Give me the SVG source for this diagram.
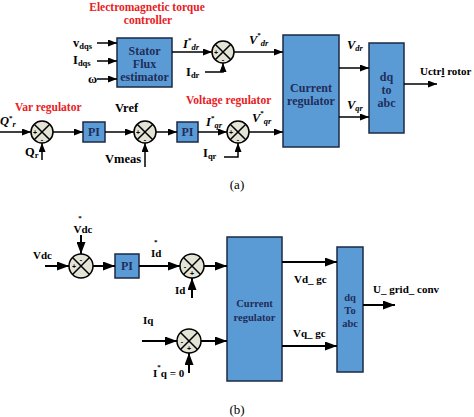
<svg xmlns="http://www.w3.org/2000/svg" width="474" height="417" viewBox="0 0 474 417">
<defs>
<style>
text{font-family:"Liberation Serif","Times New Roman",serif;font-weight:bold;fill:#000}
.box{fill:#5B9BD5;stroke:#1B2A44;stroke-width:1.5}
.bt{fill:#1F2D5A;text-anchor:middle;font-size:12px}
.bt2{fill:#1F2D5A;text-anchor:middle;font-size:10.5px}
.red{fill:#E8201E;font-size:11.5px}
.lbl{font-size:12.5px}
.lb{font-size:11px}
.sub{font-size:8.5px}
.st{font-size:7px;font-style:normal}
.it{font-style:italic}
.sum{fill:#E4E4D6;stroke:#000;stroke-width:1.5}
.x{stroke:#000;stroke-width:1.5}
.sg{font-size:7px;text-anchor:middle;font-family:"Liberation Sans",Arial,sans-serif}
.ln{fill:none;stroke:#000;stroke-width:1.5}
.lnb{fill:none;stroke:#000;stroke-width:2}
.cap{font-weight:normal;font-size:13px;text-anchor:middle}
</style>
<marker id="ah" markerWidth="9" markerHeight="7" refX="9" refY="3.5" orient="auto" markerUnits="userSpaceOnUse"><path d="M0,0 L9,3.5 L0,7 z" fill="#000"/></marker>
<marker id="ahb" markerWidth="12" markerHeight="9" refX="12" refY="4.5" orient="auto" markerUnits="userSpaceOnUse"><path d="M0,0 L12,4.5 L0,9 z" fill="#000"/></marker>
</defs>

<!-- ===== (a) ===== -->
<text class="red" x="147" y="11" text-anchor="middle">Electromagnetic torque</text>
<text class="red" x="148" y="24" text-anchor="middle">controller</text>
<text class="red" x="15" y="111">Var regulator</text>
<text class="red" x="186" y="104">Voltage regulator</text>

<g id="stator">
<rect class="box" x="117" y="38" width="55" height="49"/>
<text class="bt" x="144.5" y="55">Stator</text>
<text class="bt" x="144.5" y="68">Flux</text>
<text class="bt" x="144.5" y="81">estimator</text>
</g>
<g id="sum1">
<circle class="sum" cx="223" cy="52" r="11"/>
<path class="x" d="M215.2,44.2 L230.8,59.8 M230.8,44.2 L215.2,59.8"/>
<text class="sg" x="216" y="55">+</text><text class="sg" x="223" y="62">-</text>
</g>
<g id="currreg1">
<rect class="box" x="283" y="35" width="56" height="112"/>
<text class="bt" x="311" y="92">Current</text>
<text class="bt" x="311" y="105">regulator</text>
</g>
<g id="dqabc1">
<rect class="box" x="369" y="43" width="35" height="90"/>
<text class="bt" x="386.5" y="81">dq</text>
<text class="bt" x="386.5" y="94">to</text>
<text class="bt" x="386.5" y="107">abc</text>
</g>
<g id="sum2">
<circle class="sum" cx="42" cy="132" r="11"/>
<path class="x" d="M34.2,124.2 L49.8,139.8 M49.8,124.2 L34.2,139.8"/>
<text class="sg" x="35" y="135">+</text><text class="sg" x="42" y="142">-</text>
</g>
<g id="pi1">
<rect class="box" x="83" y="122" width="22" height="20"/>
<text class="bt" x="94" y="135.5" font-size="9">PI</text>
</g>
<g id="sum3">
<circle class="sum" cx="145" cy="132" r="11"/>
<path class="x" d="M137.2,124.2 L152.8,139.8 M152.8,124.2 L137.2,139.8"/>
<text class="sg" x="138" y="135">+</text><text class="sg" x="145" y="142">-</text>
</g>
<g id="pi2">
<rect class="box" x="177" y="122" width="21" height="20"/>
<text class="bt" x="187.5" y="135.5" font-size="9">PI</text>
</g>
<g id="sum4">
<circle class="sum" cx="238" cy="132" r="11"/>
<path class="x" d="M230.2,124.2 L245.8,139.8 M245.8,124.2 L230.2,139.8"/>
<text class="sg" x="231" y="135">+</text><text class="sg" x="238" y="142">-</text>
</g>

<!-- labels (a) -->
<text class="lbl" x="73" y="47">v<tspan class="sub" dy="2">dqs</tspan></text>
<text class="lbl" x="73" y="64">I<tspan class="sub" dy="2">dqs</tspan></text>
<text class="lbl" x="88" y="83">ω</text>
<text class="lbl it" x="183" y="48">I<tspan class="st" dy="-6">*</tspan><tspan class="sub" dy="8">dr</tspan></text>
<text class="lbl" x="186" y="76">I<tspan class="sub" dy="2">dr</tspan></text>
<text class="lbl it" x="249" y="44">V<tspan class="st" dy="-7">*</tspan><tspan class="sub" dy="9">dr</tspan></text>
<text class="lbl it" x="347" y="49">V<tspan class="sub" dy="2">dr</tspan></text>
<text class="lbl it" x="347" y="109">V<tspan class="sub" dy="2">qr</tspan></text>
<text class="lb" x="420" y="75">Uctr<tspan text-decoration="underline">l</tspan> rotor</text>
<text class="lbl it" x="0" y="125">Q<tspan class="st" dy="-5">*</tspan><tspan class="sub" dy="7">r</tspan></text>
<text class="lbl" x="25" y="156">Q<tspan class="sub" dy="2">r</tspan></text>
<text class="lbl" x="115" y="112">Vref</text>
<text class="lbl" x="105" y="163">Vmeas</text>
<text class="lbl it" x="206" y="126">I<tspan class="st" dy="-6">*</tspan><tspan class="sub" dy="8">qr</tspan></text>
<text class="lbl" x="203" y="157">I<tspan class="sub" dy="2">qr</tspan></text>
<text class="lbl it" x="252" y="122">V<tspan class="st" dy="-7">*</tspan><tspan class="sub" dy="9">qr</tspan></text>
<text class="cap" x="237" y="189">(a)</text>

<!-- ===== (b) ===== -->
<g id="sum5">
<circle class="sum" cx="81" cy="266" r="12"/>
<path class="x" d="M72.5,257.5 L89.5,274.5 M89.5,257.5 L72.5,274.5"/>
<text class="sg" x="81" y="262">-</text><text class="sg" x="74" y="269">+</text>
</g>
<g id="pi3">
<rect class="box" x="115" y="254" width="24" height="24"/>
<text class="bt" x="127" y="270" font-size="11">PI</text>
</g>
<g id="sum6">
<circle class="sum" cx="192" cy="266" r="12"/>
<path class="x" d="M183.5,257.5 L200.5,274.5 M200.5,257.5 L183.5,274.5"/>
<text class="sg" x="185" y="269">-</text><text class="sg" x="192" y="276">+</text>
</g>
<g id="currreg2">
<rect class="box" x="227" y="237" width="55" height="144"/>
<text class="bt2" x="254.5" y="307">Current</text>
<text class="bt2" x="254.5" y="321">regulator</text>
</g>
<g id="sum7">
<circle class="sum" cx="189" cy="341" r="12"/>
<path class="x" d="M180.5,332.5 L197.5,349.5 M197.5,332.5 L180.5,349.5"/>
<text class="sg" x="182" y="344">-</text><text class="sg" x="189" y="351">+</text>
</g>
<g id="dqabc2">
<rect class="box" x="337" y="247" width="26" height="125"/>
<text class="bt2" x="350" y="301">dq</text>
<text class="bt2" x="350" y="314">To</text>
<text class="bt2" x="350" y="327">abc</text>
</g>

<!-- labels (b) -->
<text class="st" x="80" y="220" text-anchor="middle">*</text>
<text class="lb" x="83" y="233" text-anchor="middle">Vdc</text>
<text class="lb" x="33" y="259">Vdc</text>
<text class="st" x="154" y="244">*</text>
<text class="lb" x="151" y="257">Id</text>
<text class="lb" x="175" y="294">Id</text>
<text class="lb" x="143" y="324">Iq</text>
<text class="lb" x="153" y="377">I<tspan class="st" dy="-8">*</tspan><tspan dy="8">q = 0</tspan></text>
<text class="lb" x="294" y="283">Vd_ gc</text>
<text class="lb" x="293" y="337">Vq_ gc</text>
<text class="lb" x="373" y="293">U_ grid_ conv</text>
<text class="cap" x="237" y="414">(b)</text>

<!-- connectors -->
<g id="connectors">
<path class="ln" d="M97,43 H117" marker-end="url(#ah)"/>
<path class="ln" d="M97,61 H117" marker-end="url(#ah)"/>
<path class="ln" d="M97,79 H117" marker-end="url(#ah)"/>
<path class="ln" d="M172,52 H212" marker-end="url(#ah)"/>
<path class="ln" d="M205,72 H223 V63" marker-end="url(#ah)"/>
<path class="ln" d="M234,52 H283" marker-end="url(#ah)"/>
<path class="ln" d="M339,68 H369" marker-end="url(#ah)"/>
<path class="ln" d="M339,117 H369" marker-end="url(#ah)"/>
<path class="ln" d="M404,84 H437" marker-end="url(#ah)"/>
<path class="ln" d="M0,132 H31" marker-end="url(#ah)"/>
<path class="ln" d="M42,160 V143" marker-end="url(#ah)"/>
<path class="ln" d="M53,132 H83" marker-end="url(#ah)"/>
<path class="ln" d="M105,132 H134" marker-end="url(#ah)"/>
<path class="ln" d="M145,167 V143" marker-end="url(#ah)"/>
<path class="ln" d="M156,132 H177" marker-end="url(#ah)"/>
<path class="ln" d="M198,132 H227" marker-end="url(#ah)"/>
<path class="ln" d="M224,157 H238 V143" marker-end="url(#ah)"/>
<path class="ln" d="M249,132 H283" marker-end="url(#ah)"/>

<path class="lnb" d="M81,235 V254" marker-end="url(#ahb)"/>
<path class="lnb" d="M45,266 H69" marker-end="url(#ahb)"/>
<path class="lnb" d="M93,266 H115" marker-end="url(#ahb)"/>
<path class="lnb" d="M139,266 H180" marker-end="url(#ahb)"/>
<path class="lnb" d="M192,298 V278" marker-end="url(#ahb)"/>
<path class="lnb" d="M204,266 H227" marker-end="url(#ahb)"/>
<path class="lnb" d="M142,341 H177" marker-end="url(#ahb)"/>
<path class="lnb" d="M189,373 V353" marker-end="url(#ahb)"/>
<path class="lnb" d="M201,341 H227" marker-end="url(#ahb)"/>
<path class="lnb" d="M282,262 H337" marker-end="url(#ahb)"/>
<path class="lnb" d="M282,346 H337" marker-end="url(#ahb)"/>
<path class="lnb" d="M363,305 H395" stroke="#1F5A8C" marker-end="url(#ahb)"/>
</g>
</svg>
